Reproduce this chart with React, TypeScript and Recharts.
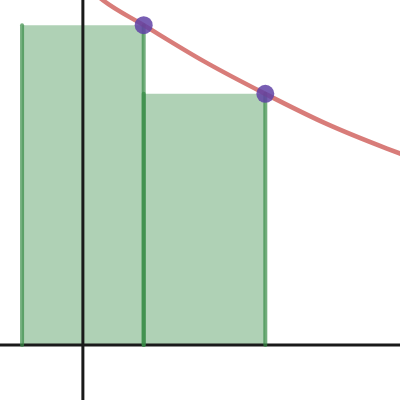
import { ComposedChart, Line, Scatter, XAxis, YAxis, ReferenceArea, ReferenceLine } from "recharts";

// right-endpoint rectangles
const rectLeft = [-1, 1];
const rectRight = [1, 3];
const rectHeight = [5.26, 4.13];

// curve
const curveX = [0, 0.33, 1, 2, 3, 4, 5, 5.4];
const curveY = [5.95, 5.67, 5.26, 4.66, 4.13, 3.64, 3.23, 3.08];

// sample points
const dotX = [1, 3];
const dotY = [5.26, 4.13];

const X_DOMAIN = [-1.363, 5.215];
const Y_DOMAIN = [-0.905, 5.674];

const GREEN = "#388c46";
const RED = "#c74440";
const PURPLE = "#6042a6";
const AXIS = "#1a1a1a";

export default function App() {
  const curve = curveX.map((x, i) => ({ x, y: curveY[i] }));
  const dots = dotX.map((x, i) => ({ x, y: dotY[i] }));

  return (
    <div style={{ position: "fixed", left: 0, top: 0, width: 400, height: 400, background: "#fff" }}>
      <ComposedChart width={400} height={400} margin={{ top: 0, right: 0, bottom: 0, left: 0 }}>
        <XAxis type="number" dataKey="x" domain={X_DOMAIN} allowDataOverflow hide />
        <YAxis type="number" dataKey="y" domain={Y_DOMAIN} allowDataOverflow hide width={0} />
        <ReferenceLine x={0} stroke={AXIS} strokeWidth={3} />
        <ReferenceLine y={0} stroke={AXIS} strokeWidth={3} />
        {rectLeft.map((x1, i) => (
          <ReferenceArea
            key={"r" + i}
            x1={x1}
            x2={rectRight[i]}
            y1={0}
            y2={rectHeight[i]}
            fill={GREEN}
            fillOpacity={0.4}
            stroke="none"
          />
        ))}
        {rectLeft.flatMap((x1, i) =>
          [x1, rectRight[i]].map((x, j) => (
            <ReferenceLine
              key={"s" + i + j}
              segment={[
                { x, y: 0 },
                { x, y: rectHeight[i] },
              ]}
              stroke={GREEN}
              strokeOpacity={0.7}
              strokeWidth={4}
              strokeLinecap="round"
            />
          ))
        )}
        <Scatter
          data={dots}
          dataKey="y"
          isAnimationActive={false}
          shape={(p: any) => <circle cx={p.cx} cy={p.cy} r={9} fill={PURPLE} fillOpacity={0.85} />}
        />
        <Line
          data={curve}
          dataKey="y"
          type="monotone"
          stroke={RED}
          strokeOpacity={0.7}
          strokeWidth={4.5}
          dot={false}
          isAnimationActive={false}
        />
      </ComposedChart>
    </div>
  );
}
